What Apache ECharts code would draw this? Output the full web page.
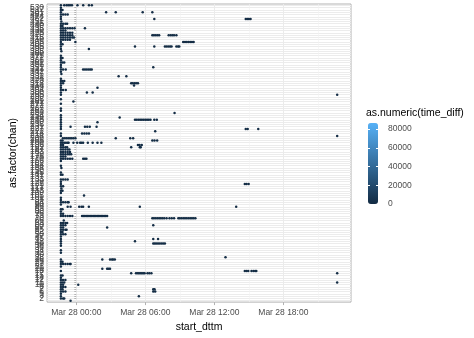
<!DOCTYPE html>
<html><head><meta charset="utf-8">
<script src="https://cdn.jsdelivr.net/npm/echarts@6/dist/echarts.min.js"></script>
<style>html,body{margin:0;padding:0;background:#fff}#c{width:474px;height:338px}</style>
</head><body><div id="c"></div>
<script>
// factor levels of chan (bottom -> top)
const chanLabels = [
  1,2,3,5,6,7,8,10,11,12,
  14,15,17,18,20,21,23,25,26,28,
  30,32,34,36,38,40,42,45,47,50,
  52,55,57,60,63,66,70,73,76,80,
  83,86,90,94,98,101,105,109,113,117,
  121,125,129,133,137,141,145,150,154,158,
  162,166,170,175,179,183,187,192,196,200,
  205,209,214,218,222,227,231,236,240,245,
  249,254,258,263,267,272,277,281,286,290,
  295,300,304,309,314,318,323,328,332,337,
  342,347,351,356,361,366,371,375,380,385,
  390,395,400,405,410,415,420,425,430,435,
  440,446,451,462,474,487,501,517,530,540
].map(String);

// x tick labels (hours on Mar 28) and minor grid positions
const xTickHours = [0, 6, 12, 18];
const xMinorHours = [3, 9, 15, 21];
const legendBreaks = [0, 20000, 40000, 60000, 80000];
const diffLimits = [0, 86400];

// observations: [factor level of chan, start_dttm (hours from Mar 28 00:00), time_diff]
const rows = [
  [130, [-1.34,-1.05,-0.85,-0.7,-0.55,-0.38,0.1,0.6,1.1,1.35], 600],
  [129, [-1.34], 600],
  [128, [-1.34,-1.2], 600],
  [127, [-1.34,2.59,3.43,5.77,6.61], 900],
  [126, [-1.34,-1.15,-0.95,-0.75], 600],
  [125, [-1.34], 600],
  [124, [-1.34,6.78,14.73,14.86,15.0,15.15], 800],
  [123, [-1.3], 600],
  [122, [-1.34,-1.15,-0.95,-0.8], 600],
  [121, [-1.34,-1.2], 600],
  [120, [-1.34,-1.15,-0.95,-0.75,-0.55,-0.35,-0.15,0.75], 600],
  [119, [-1.34,-1.15,-0.95], 600],
  [118, [-1.34,-1.15,-0.95,-0.75,-0.55,-0.35], 600],
  [117, [-1.34,-1.15,-0.95,-0.75,-0.55,-0.35,6.61,6.75,6.9,7.05,7.2,8.03,8.2,8.35,8.5,8.7], 600],
  [116, [-1.34,-1.15,-0.95,-0.75,-0.55,-0.35,-0.2], 600],
  [115, [-1.34,-1.15,-0.95,-0.75,-0.55], 600],
  [114, [-1.34,-0.08,9.29,9.45,9.6,9.75,9.9,10.05,10.2], 700],
  [113, [-1.34,-1.2], 600],
  [112, [-1.34,5.1,6.78,7.7,7.85,8.0,8.15,8.28,8.7,8.85,8.95], 700],
  [111, [-1.34,1.09], 600],
  [110, [-1.3], 600],
  [108, [-1.34], 600],
  [107, [-1.34,-1.2], 600],
  [106, [-1.34], 600],
  [105, [-1.34,-1.2,-1.05], 600],
  [104, [-1.34], 600],
  [103, [-1.34,6.69], 600],
  [102, [-1.34,-1.15,-0.92,0.59,0.75,0.9,1.05,1.2,1.34], 600],
  [101, [-1.34], 600],
  [100, [-1.3], 600],
  [99, [3.68,4.35], 900],
  [98, [-1.34], 600],
  [97, [-1.34,-1.2,-1.05], 600],
  [96, [-1.34,-1.15,4.77,4.9,5.05,5.2,5.36], 600],
  [95, [-1.34,5.02], 600],
  [94, [-1.34,1.84], 600],
  [93, [-1.34,-1.15,-0.92], 600],
  [92, [-1.34,0.92,1.42], 600],
  [91, [-1.34,22.68], 900],
  [89, [-1.34], 600],
  [88, [-0.25], 600],
  [87, [-1.34], 600],
  [85, [-1.34], 600],
  [84, [-1.34], 600],
  [83, [8.54], 900],
  [82, [-1.34], 600],
  [81, [-1.34,3.77], 600],
  [80, [-1.34,5.1,5.25,5.4,5.55,5.7,5.85,6.0,6.15,6.3,6.45,6.78,7.0], 600],
  [79, [-1.34,1.84], 600],
  [78, [-1.34], 600],
  [77, [-1.34,-0.5,0.75,0.95,1.17,1.76], 600],
  [76, [-1.34,14.73,14.9,15.82], 800],
  [75, [6.86], 600],
  [74, [-1.34,0.5,0.7,0.9,1.1], 600],
  [73, [-1.34,22.68], 900],
  [72, [-1.17,-1.0,-0.85,-0.7,-0.55,-0.4,-0.25,-0.08,3.43,4.69,4.94], 600],
  [71, [-1.34,-1.2,6.61,6.8,7.03], 600],
  [70, [-1.34,-1.2,-1.05,-0.9,-0.75,-0.67,-0.25,0.08,0.33,0.45,0.59,1.0,1.42,1.84,2.18], 600],
  [69, [-1.34,-1.15,5.36,5.5,5.69], 600],
  [68, [-1.34,-1.15,-0.95,-0.8,4.77,5.52,5.6], 600],
  [67, [-1.34,-1.15,-0.95,-0.75,-0.6], 600],
  [66, [-1.34,-1.15,-0.95,-0.75,-0.55], 600],
  [65, [-1.34,-1.15,-0.95,-0.75,-0.6,-0.45], 600],
  [64, [-1.34,-1.15,-0.95], 600],
  [63, [-1.34,-1.15,-0.95,-0.75,-0.55,-0.35,0.6,0.75,0.88], 600],
  [62, [-1.34], 600],
  [60, [-1.34], 600],
  [59, [-1.3], 600],
  [57, [-1.34], 600],
  [56, [-1.34,-1.2], 600],
  [54, [-1.34,-1.15,-0.95,-0.75], 600],
  [53, [-1.34], 600],
  [52, [-1.34,14.65,14.8,14.98], 600],
  [51, [-1.34,-1.15], 600],
  [50, [-1.3], 600],
  [49, [-1.34,-1.2], 600],
  [48, [-1.34], 600],
  [47, [0.67], 600],
  [46, [-1.34], 600],
  [45, [-1.34], 600],
  [44, [-1.34,-1.15,-0.95,-0.75,-0.67], 600],
  [43, [-1.34], 600],
  [42, [-0.75,-0.5,0.25,0.45,0.59,1.09,5.52,13.9], 700],
  [41, [-1.34,-1.2], 600],
  [40, [-1.34], 600],
  [39, [-1.34,-1.15], 600],
  [38, [-1.34,-1.15,-0.95,-0.75,-0.55,-0.35,0.5,0.62,0.74,0.86,0.98,1.1,1.22,1.34,1.46,1.58,1.7,1.82,1.94,2.06,2.18,2.3,2.42,2.55,2.68], 600],
  [37, [6.61,6.75,6.9,7.05,7.2,7.35,7.5,7.65,7.85,8.1,8.3,8.5,8.87,9.0,9.15,9.3,9.45,9.6,9.75,9.9,10.05,10.2,10.35], 600],
  [36, [-1.09], 600],
  [35, [-1.34,-1.15,-0.95,-0.8], 600],
  [34, [-1.34,-1.15,-0.95,6.69], 600],
  [33, [-1.34,-1.15,2.68], 600],
  [32, [-1.34,-1.15,-0.95,-0.85], 600],
  [31, [-1.34,-1.2], 600],
  [30, [-1.34,-1.15,-0.95], 600],
  [29, [-1.34], 600],
  [28, [-1.34,6.69,7.11], 600],
  [27, [-1.34,5.1], 600],
  [26, [-1.34,6.69,6.82,6.95,7.1,7.25,7.4,7.55,7.7], 600],
  [25, [-1.34], 600],
  [23, [-1.34], 600],
  [22, [-1.34], 600],
  [20, [12.97], 900],
  [19, [-1.34,2.26,2.93,3.1,3.2,3.35], 600],
  [18, [-1.34,-1.2], 600],
  [17, [-1.34,-1.15,-0.95,-0.75,-0.55,-0.5], 600],
  [16, [-1.34], 600],
  [15, [2.26,2.68,2.8,2.93], 600],
  [14, [-1.34,14.65,14.8,14.95,15.23,15.4,15.55,15.65], 600],
  [13, [4.77,5.19,5.33,5.45,5.58,5.7,5.82,5.94,6.19,6.35,6.53,22.68], 600],
  [12, [-1.34,-1.2], 600],
  [11, [-1.34], 600],
  [10, [-1.34,-1.15,-0.95], 600],
  [9, [-1.34,-1.2,-1.05,22.68], 600],
  [8, [-1.34,-1.15,0.17], 600],
  [7, [-1.34,-1.15,-0.95], 600],
  [6, [-1.34,-1.2,6.69,6.8], 600],
  [5, [-1.34,-1.15,-0.95,6.69,6.86], 600],
  [4, [-1.34], 600],
  [3, [-1.34,5.44], 600],
  [2, [-1.34,-1.15,-1.05], 600],
  [1, [-0.5], 600]
];

const data = [];
rows.forEach(r => r[1].forEach(h => data.push([h, r[0], r[2]])));

// ggplot-like 5% expansion of the continuous x scale
let hMin = Infinity, hMax = -Infinity;
data.forEach(d => { hMin = Math.min(hMin, d[0]); hMax = Math.max(hMax, d[0]); });
const span = hMax - hMin;
const xMin = hMin - 0.05 * span, xMax = hMax + 0.05 * span;
const nLev = chanLabels.length;
const levels = chanLabels.map((_, i) => i + 1);

const FONT = 'Liberation Sans, Arial, sans-serif';
const pad = n => (n < 10 ? '0' : '') + n;
const fmtTime = v => 'Mar 28 ' + pad(Math.round(v)) + ':00';

const chart = echarts.init(document.getElementById('c'), null, {renderer: 'canvas'});
chart.setOption({
  animation: false,
  backgroundColor: '#ffffff',
  textStyle: {fontFamily: FONT},
  title: {
    text: 'as.numeric(time_diff)', left: 366, top: 108, padding: 0,
    textStyle: {fontFamily: FONT, fontSize: 10.5, fontWeight: 'normal', color: '#000'}
  },
  grid: [
    {left: 36, top: 4, width: 315, height: 301, show: true, borderColor: '#b3b3b3', borderWidth: 1, backgroundColor: '#fff'},
    {left: 368, top: 123, width: 10, height: 81, show: false}
  ],
  xAxis: [
    {
      gridIndex: 0, type: 'value', min: xMin, max: xMax,
      axisLine: {show: false},
      axisTick: {show: true, customValues: xTickHours, length: 3, lineStyle: {color: '#b3b3b3'}},
      axisLabel: {customValues: xTickHours, formatter: fmtTime, color: '#4d4d4d', fontSize: 8.5, margin: 6, fontFamily: FONT},
      splitLine: {show: true, lineStyle: {color: '#ebebeb', width: 1}},
      name: 'start_dttm', nameLocation: 'middle', nameGap: 19,
      nameTextStyle: {color: '#000', fontSize: 10.5, fontFamily: FONT}
    },
    {
      gridIndex: 0, type: 'value', min: xMin, max: xMax, position: 'bottom',
      axisLine: {show: false},
      axisTick: {show: false, customValues: xMinorHours},
      axisLabel: {show: false, customValues: xMinorHours},
      splitLine: {show: true, lineStyle: {color: '#f2f2f2', width: 0.6}}
    },
    {gridIndex: 1, type: 'value', min: 0, max: 1, show: false}
  ],
  yAxis: [
    {
      gridIndex: 0, type: 'value', min: 0.4, max: nLev + 0.6,
      axisLine: {show: false},
      axisTick: {show: true, customValues: levels, length: 2, lineStyle: {color: '#b3b3b3'}},
      axisLabel: {customValues: levels, formatter: v => chanLabels[Math.round(v) - 1], color: '#4d4d4d', fontSize: 8.5, margin: 3, fontFamily: FONT},
      splitLine: {show: true, lineStyle: {color: '#ececec', width: 1}},
      name: 'as.factor(chan)', nameLocation: 'middle', nameGap: 28, nameRotate: 90,
      nameTextStyle: {color: '#000', fontSize: 10.5, fontFamily: FONT}
    },
    {
      gridIndex: 1, type: 'value', position: 'left', min: diffLimits[0], max: diffLimits[1], z: 10,
      axisLine: {show: false},
      axisTick: {show: true, inside: true, length: 2, customValues: legendBreaks, lineStyle: {color: '#fff', width: 1}},
      axisLabel: {show: false, customValues: legendBreaks},
      splitLine: {show: false}
    },
    {
      gridIndex: 1, type: 'value', position: 'right', min: diffLimits[0], max: diffLimits[1], z: 10,
      axisLine: {show: false},
      axisTick: {show: true, inside: true, length: 2, customValues: legendBreaks, lineStyle: {color: '#fff', width: 1}},
      axisLabel: {show: true, customValues: legendBreaks, formatter: v => String(v), margin: 10, color: '#4d4d4d', fontSize: 8.5, fontFamily: FONT},
      splitLine: {show: false}
    }
  ],
  visualMap: {
    type: 'continuous', min: diffLimits[0], max: diffLimits[1], dimension: 2, seriesIndex: 0,
    left: 368, top: 123, itemWidth: 10, itemHeight: 81, padding: 0,
    calculable: false, text: ['', ''], showLabel: false, hoverLink: false,
    inRange: {color: ['#132B43', '#56B1F7']}
  },
  series: [{
    type: 'scatter', xAxisIndex: 0, yAxisIndex: 0, data: data,
    symbol: 'circle', symbolSize: 2.5, silent: true,
    itemStyle: {opacity: 1}
  }]
});
</script>
</body></html>
